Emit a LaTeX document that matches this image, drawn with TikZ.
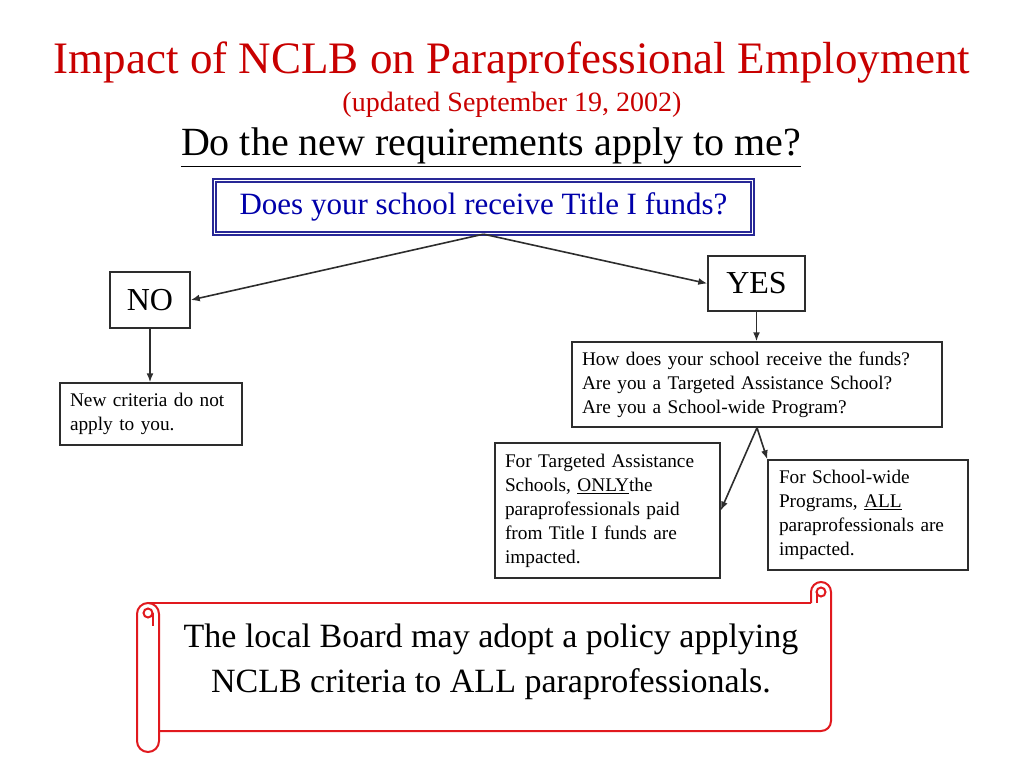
\documentclass[tikz,border=0pt]{standalone}
\usepackage{fontspec}
\setmainfont{Liberation Serif}
\usetikzlibrary{positioning, arrows.meta}

\definecolor{titlered}{RGB}{200,0,0}
\definecolor{askblue}{RGB}{0,0,170}
\definecolor{frameblue}{RGB}{40,40,150}
\definecolor{scrollred}{RGB}{225,25,30}
\definecolor{boxgray}{RGB}{45,45,45}

\begin{document}
\begin{tikzpicture}[
    x=1pt, y=-1pt,
    % GLOBAL CFG
    >={Latex[length=9pt,width=7pt]},
    % Styles
    heading/.style={% For the headlines
        text=titlered,
        inner sep=0pt,
        anchor=base,
        },
    question/.style={% The blue framed question
        rectangle,
        draw=frameblue,
        line width=1.3pt,
        double=white,
        double distance=1.8pt,
        text=askblue,
        font=\fontsize{31}{36}\selectfont,
        minimum width=538pt,
        minimum height=53pt,
        },
    answer/.style={% For NO and YES
        rectangle,
        draw=boxgray,
        line width=1.5pt,
        font=\fontsize{32}{36}\selectfont,
        inner sep=0pt,
        },
    note/.style={% Boxes with small text
        rectangle,
        draw=boxgray,
        line width=1.5pt,
        font=\fontsize{19.3}{24}\selectfont,
        align=left,
        inner xsep=10pt,
        inner ysep=0pt,
        },
    ArrowC1/.style={% Connectors
        ->,
        draw=boxgray,
        line width=1.6pt,
        },
    scroll/.style={% The red scroll
        draw=scrollred,
        line width=2pt,
        },
    ]

\useasboundingbox (0,0) rectangle (1024,768);

% Headlines
    \node [heading, font=\fontsize{45}{54}\selectfont] (title) at (512,73) {Impact of NCLB on Paraprofessional Employment};
    \node [heading, font=\fontsize{28}{32}\selectfont] (update) at (512,111) {(updated September 19, 2002)};
    \node [heading, text=black, inner ysep=3pt, font=\fontsize{40}{46}\selectfont] (ask) at (491,155) {Do the new requirements apply to me?};
    \draw [line width=1.2pt] (ask.south west) -- (ask.south east);

% Boxes
    \node [question] (question) at (483.5,207) {Does your school receive Title I funds?};
    \node [answer, minimum width=80pt, minimum height=56pt] (no) at (150,300) {NO};
    \node [answer, minimum width=97pt, minimum height=55pt] (yes) at (756.5,283.5) {YES};
    \node [note, text width=162pt, minimum height=62pt] (crit) at (151,414) {New criteria do not\\apply to you.};
    \node [note, text width=350pt, minimum height=85pt] (how) at (757,384.5) {How does your school receive the funds?\\Are you a Targeted Assistance School?\\Are you a School-wide Program?};
    \node [note, text width=205pt, minimum height=135pt] (targeted) at (607.5,510.5) {For Targeted Assistance\\Schools, \underline{ONLY}the\\paraprofessionals paid\\from Title I funds are\\impacted.};
    \node [note, text width=178pt, inner xsep=11pt, minimum height=110pt] (wide) at (868,515) {For School-wide\\Programs, \underline{ALL}\\paraprofessionals are\\impacted.};

% Connectors
    \draw [ArrowC1] (question.south) -- (no.east);
    \draw [ArrowC1] (question.south) -- (yes.west);
    \draw [ArrowC1] (no.south) -- (no.south |- crit.north);
    \draw [ArrowC1] (yes.south) -- (yes.south |- how.north);
    \draw [ArrowC1] (how.south) -- (targeted.east);
    \draw [ArrowC1] (how.south) -- (wide.north west);

% Scroll
    \draw [scroll, rounded corners=10pt] (159,731) -- (831,731) -- (831,582) -- (811,582) -- (811,603);
    \draw [scroll] (811,603) -- (148,603);
    \draw [scroll, rounded corners=11pt] (137,603) rectangle (159,752);
    \draw [scroll] (148,613) circle (4.5);
    \draw [scroll] (152.5,613) -- (152.5,626);
    \draw [scroll] (821,592) circle (4.5);
    \draw [scroll] (816.5,592) -- (816.5,603);
    \node [font=\fontsize{34}{45}\selectfont, align=center] (board) at (491,662) {The local Board may adopt a policy applying\\NCLB criteria to ALL paraprofessionals.};

\end{tikzpicture}
\end{document}
